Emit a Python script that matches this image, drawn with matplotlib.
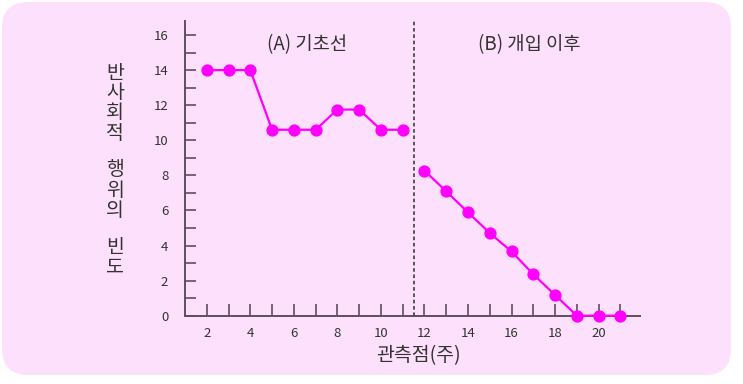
import matplotlib
matplotlib.use("Agg")
import matplotlib.pyplot as plt
from matplotlib.patches import FancyBboxPatch

plt.rcParams['font.family'] = ['Noto Sans CJK KR', 'DejaVu Sans']

# Data
baseline_weeks = [2, 3, 4, 5, 6, 7, 8, 9, 10, 11]
baseline_vals = [14.0, 14.0, 14.0, 10.6, 10.6, 10.6, 11.75, 11.75, 10.6, 10.6]
interv_weeks = [12, 13, 14, 15, 16, 17, 18, 19, 20, 21]
interv_vals = [8.27, 7.09, 5.89, 4.71, 3.66, 2.36, 1.18, 0.0, 0.0, 0.0]
phase_split = 11.5
x_tick_positions = list(range(2, 22))
x_tick_labels = [str(v) if v % 2 == 0 else "" for v in x_tick_positions]
y_tick_positions = list(range(0, 17))
y_tick_labels = [str(v) if v % 2 == 0 else "" for v in y_tick_positions]
phase_labels = ["(A) 기초선", "(B) 개입 이후"]
y_label_words = ["반사회적", "행위의", "빈도"]
x_label = "관측점(주)"

W, H = 743, 384
fig = plt.figure(figsize=(W / 100, H / 100), dpi=100)
fig.patch.set_facecolor('white')

bg = FancyBboxPatch((2 / W, 9 / H), 729 / W, 373 / H,
                    boxstyle="round,pad=0,rounding_size=0.035",
                    transform=fig.transFigure, facecolor='#fde0fb',
                    edgecolor='none', mutation_aspect=W / H, zorder=-10)
fig.patches.append(bg)

ax = fig.add_axes([185 / W, 1 - 315.7 / H, (640 - 185) / W, (315.7 - 21) / H])
ax.set_facecolor('none')
ax.set_zorder(1)

axis_color = '#5e4f5e'
mag = '#ff00ff'

ax.plot(baseline_weeks, baseline_vals, color=mag, lw=1.6, marker='o',
        ms=7.8, mec=mag, mfc=mag, zorder=5, clip_on=False)
ax.plot(interv_weeks, interv_vals, color=mag, lw=1.6, marker='o',
        ms=7.8, mec=mag, mfc=mag, zorder=5, clip_on=False)

ax.axvline(phase_split, color='#4a4a4a', lw=1.3, ls=(0, (2, 1.5)), zorder=3)

ax.set_xlim(1.0, 21.9)
ax.set_ylim(0, 16.8)

for s in ['top', 'right']:
    ax.spines[s].set_visible(False)
for s in ['left', 'bottom']:
    ax.spines[s].set_color(axis_color)
    ax.spines[s].set_linewidth(1.4)

ax.set_xticks(x_tick_positions)
ax.set_xticklabels(x_tick_labels)
ax.set_yticks(y_tick_positions)
ax.set_yticklabels(y_tick_labels)
ax.tick_params(axis='x', direction='in', length=9, width=1.2, color=axis_color,
               labelsize=9.5, labelcolor='#333333', pad=8)
ax.tick_params(axis='y', direction='in', length=8, width=1.2, color=axis_color,
               labelsize=9.5, labelcolor='#333333', pad=12)

txt_color = '#333333'
fig.text(307 / W, 1 - 45 / H, phase_labels[0], ha='center', va='center',
         fontsize=13.5, color=txt_color, fontweight='medium')
fig.text(529 / W, 1 - 45 / H, phase_labels[1], ha='center', va='center',
         fontsize=13.5, color=txt_color, fontweight='medium')

fig.text(418 / W, 1 - 356 / H, x_label, ha='center', va='center',
         fontsize=14, color=txt_color, fontweight='medium')

# vertical stacked y label
ys = [[73, 93, 113, 134], [170, 191, 211], [247, 267]]
for word, ypos in zip(y_label_words, ys):
    for ch, yp in zip(word, ypos):
        fig.text(115 / W, 1 - yp / H, ch, ha='center', va='center',
                 fontsize=14, color=txt_color, fontweight='medium')

fig.savefig('out.png', dpi=100, facecolor='white')
